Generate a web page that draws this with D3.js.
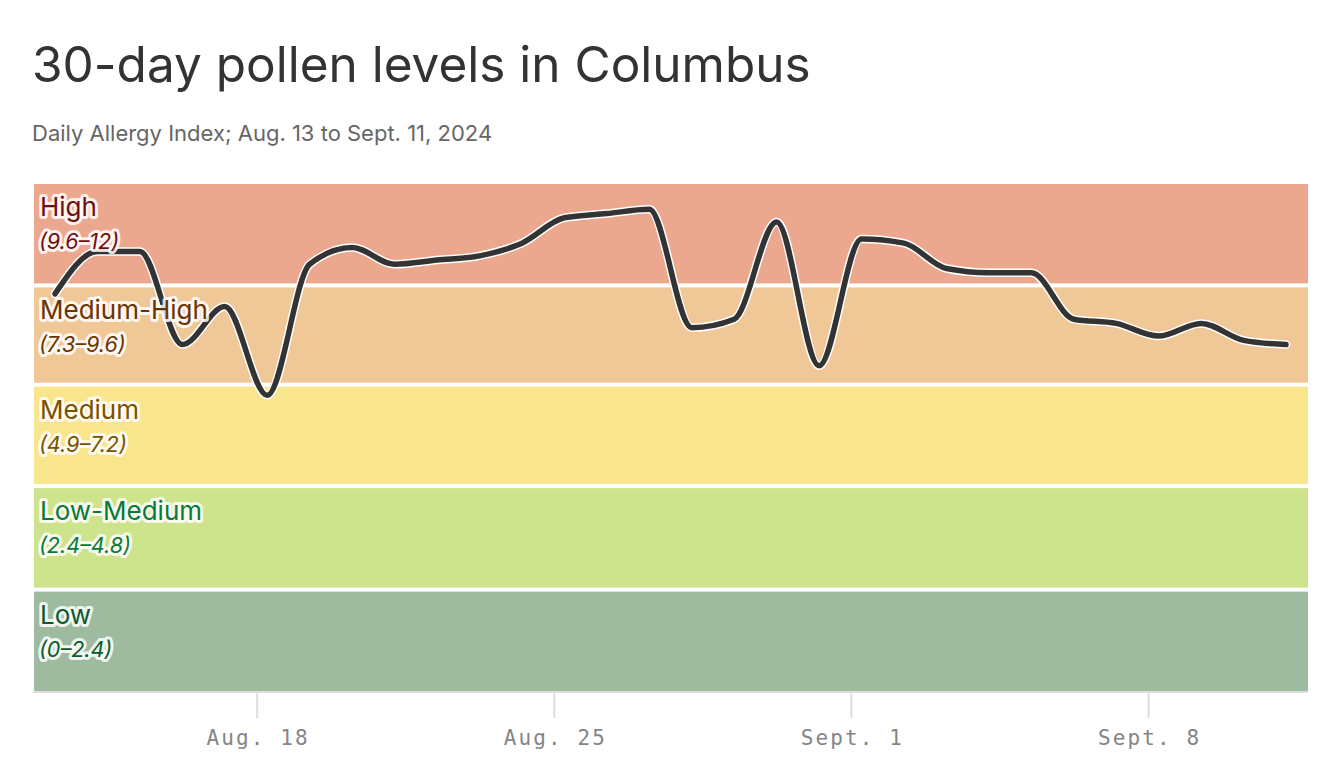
<!DOCTYPE html>
<html>
<head>
<meta charset="utf-8">
<script src="https://cdn.jsdelivr.net/npm/d3@7"></script>
<style>
  body { margin: 0; background: #fff; }
  .title { font-family: Inter, "Noto Sans", sans-serif; font-size: 49.5px; fill: #333; }
  .subtitle { font-family: Inter, "Noto Sans", sans-serif; font-size: 22px; fill: #666; }
  .bandName { font-family: Inter, "Noto Sans", sans-serif; font-size: 26px; }
  .bandRange { font-family: Inter, "Noto Sans", sans-serif; font-size: 21.5px; font-style: italic; }
  .halo { paint-order: stroke; stroke: #fff; stroke-width: 6px; stroke-linejoin: round; stroke-opacity: 0.85; }
  .xAxis text { font-family: "DejaVu Sans Mono", "Liberation Mono", monospace; font-size: 21px; fill: #858585; letter-spacing: 2.1px; }
  .xAxis line, .xAxis path { stroke: #dedede; stroke-width: 2px; }
</style>
</head>
<body>
<div id="chart"></div>
<script>
// DATA

var dates = ["2024-08-13", "2024-08-14", "2024-08-15", "2024-08-16", "2024-08-17",
    "2024-08-18", "2024-08-19", "2024-08-20", "2024-08-21", "2024-08-22",
    "2024-08-23", "2024-08-24", "2024-08-25", "2024-08-26", "2024-08-27",
    "2024-08-28", "2024-08-29", "2024-08-30", "2024-08-31", "2024-09-01",
    "2024-09-02", "2024-09-03", "2024-09-04", "2024-09-05", "2024-09-06",
    "2024-09-07", "2024-09-08", "2024-09-09", "2024-09-10", "2024-09-11"]

var allergyIndex = [9.4, 10.4, 10.4, 8.2, 9.1,
    7.0, 10.1, 10.5, 10.1, 10.2,
    10.3, 10.6, 11.2, 11.3, 11.4,
    8.6, 8.8, 11.1, 7.7, 10.7,
    10.6, 10.0, 9.9, 9.9, 8.8,
    8.7, 8.4, 8.7, 8.3, 8.2]

// readings are stamped early morning, not midnight
var readingHour = 6

var bandNames = ["Low", "Low-Medium", "Medium", "Medium-High", "High"]
var bandLows = [0, 2.4, 4.9, 7.3, 9.6]
var bandHighs = [2.4, 4.8, 7.2, 9.6, 12]

var tickDates = ["2024-08-18", "2024-08-25", "2024-09-01", "2024-09-08"]
var tickLabels = ["Aug. 18", "Aug. 25", "Sept. 1", "Sept. 8"]

var titleText = "30-day pollen levels in Columbus"
var subtitleText = "Daily Allergy Index; Aug. 13 to Sept. 11, 2024"

// STYLES

var bandFill = d3.scaleOrdinal().domain(bandNames)
    .range(["#9fbb9f", "#cee48c", "#f9e58d", "#f0c797", "#eca88e"])
var bandInk = d3.scaleOrdinal().domain(bandNames)
    .range(["#0b5a2b", "#0a7a37", "#7a5200", "#6b3400", "#6e0d12"])

// DIMENSIONS

var svgWidth = 1344
var svgHeight = 784

var plot = { left: 34, right: 1308, top: 184, bottom: 691 }
var linePad = { left: 21, right: 22 }
var bandGap = 4

var svg = d3.select("#chart").append("svg")
    .attr("width", svgWidth)
    .attr("height", svgHeight)

var parseDay = d3.utcParse("%Y-%m-%d")

var data = dates.map((d, i) => ({
    date: d3.utcHour.offset(parseDay(d), readingHour),
    value: allergyIndex[i]
}))

var xScale = d3.scaleUtc()
    .domain(d3.extent(data, d => d.date))
    .range([plot.left + linePad.left, plot.right - linePad.right])

var yScale = d3.scaleLinear()
    .domain([0, d3.max(bandHighs)])
    .range([plot.bottom, plot.top])

// title
svg.append("text")
    .attr("class", "title")
    .attr("x", 32)
    .attr("y", 82)
    .text(titleText)

svg.append("text")
    .attr("class", "subtitle")
    .attr("x", 32)
    .attr("y", 141)
    .text(subtitleText)

// bands
var bands = bandNames.map((name, i) => {
    var top = i == bandNames.length - 1 ? bandHighs[i] : (bandHighs[i] + bandLows[i + 1]) / 2
    var bottom = i == 0 ? bandLows[i] : (bandLows[i] + bandHighs[i - 1]) / 2
    return {
        name: name,
        range: "(" + bandLows[i] + "\u2013" + bandHighs[i] + ")",
        y0: yScale(top) + (i == bandNames.length - 1 ? 0 : bandGap / 2),
        y1: yScale(bottom) - (i == 0 ? 0 : bandGap / 2)
    }
})

var bandGroup = svg.append("g")

bandGroup.selectAll("rect")
    .data(bands)
    .enter()
    .append("rect")
    .attr("x", plot.left)
    .attr("width", plot.right - plot.left)
    .attr("y", d => d.y0)
    .attr("height", d => d.y1 - d.y0)
    .attr("fill", d => bandFill(d.name))

// x axis
var xAxis = d3.axisBottom(xScale)
    .tickValues(tickDates.map(parseDay))
    .tickFormat((d, i) => tickLabels[i])
    .tickSize(26)
    .tickPadding(12)
    .tickSizeOuter(0)

var axisGroup = svg.append("g")
    .attr("class", "xAxis")
    .attr("transform", `translate(0,${plot.bottom + 1})`)
    .call(xAxis)

axisGroup.select(".domain")
    .attr("d", `M${plot.left - 1},0H${plot.right}`)

axisGroup.selectAll("text")
    .attr("dy", "0.71em")
    .attr("dx", "0.05em")

// line
var line = d3.line()
    .x(d => xScale(d.date))
    .y(d => yScale(d.value))
    .curve(d3.curveMonotoneX)

svg.append("path")
    .datum(data)
    .attr("d", line)
    .attr("fill", "none")
    .attr("stroke", "#fff")
    .attr("stroke-width", 8.5)
    .attr("stroke-linecap", "round")
    .attr("stroke-linejoin", "round")

svg.append("path")
    .datum(data)
    .attr("d", line)
    .attr("fill", "none")
    .attr("stroke", "#333")
    .attr("stroke-width", 5.5)
    .attr("stroke-linecap", "round")
    .attr("stroke-linejoin", "round")

// band labels
var labelGroup = svg.append("g")

labelGroup.selectAll("text.bandName")
    .data(bands)
    .enter()
    .append("text")
    .attr("class", "bandName halo")
    .attr("x", 40)
    .attr("y", d => d.y0 + 32)
    .attr("fill", d => bandInk(d.name))
    .text(d => d.name)

labelGroup.selectAll("text.bandRange")
    .data(bands)
    .enter()
    .append("text")
    .attr("class", "bandRange halo")
    .attr("x", 39)
    .attr("y", d => d.y0 + 65)
    .attr("fill", d => bandInk(d.name))
    .text(d => d.range)
</script>
</body>
</html>
